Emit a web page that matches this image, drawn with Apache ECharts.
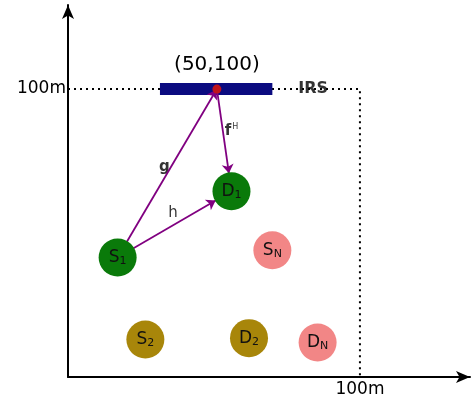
<!DOCTYPE html>
<html><head><meta charset="utf-8">
<script src="https://cdn.jsdelivr.net/npm/echarts@6/dist/echarts.min.js"></script>
<style>html,body{margin:0;background:#fff}#c{width:474px;height:402px}</style>
</head><body><div id="c"></div>
<script>
// node positions in metres
var nodeNames = ['S|1', 'D|1', 'S|N', 'S|2', 'D|2', 'D|N'];
var nodeX = [17, 56, 70, 26.5, 62, 85.5];
var nodeY = [41.5, 64.5, 44, 13, 13.5, 12];
var nodeColors = ['#0a7a0a', '#0a7a0a', '#f28686', '#a8860a', '#a8860a', '#f28686'];
var irsPoint = [51, 100];
var boundary = [[0, 100], [100, 100], [100, 0]];
var links = [
  {from: [17, 41.5], to: irsPoint, label: 'g', at: [33, 73]},
  {from: [17, 41.5], to: [56, 64.5], label: 'h', at: [36, 57]},
  {from: irsPoint, to: [56, 64.5], label: 'f', at: [56, 85.5]}
];

var chart = echarts.init(document.getElementById('c'));
var font = 'DejaVu Sans';

var nodes = nodeNames.map(function (n, i) {
  var p = n.split('|');
  return {
    value: [nodeX[i], nodeY[i]],
    itemStyle: {color: nodeColors[i], opacity: 1},
    label: {formatter: '{m|' + p[0] + '}{s|' + p[1] + '}'}
  };
});

chart.setOption({
  animation: false,
  grid: {left: 68, right: 4, top: 5, bottom: 25},
  xAxis: {
    type: 'value', min: 0, max: 137.7, interval: 100,
    splitLine: {show: false}, axisTick: {show: false},
    axisLine: {lineStyle: {color: '#000', width: 2}, symbol: ['none', 'arrow'], symbolSize: [9, 14]},
    axisLabel: {formatter: function (v) { return v === 100 ? '100m' : ''; }, fontSize: 17, color: '#000', fontFamily: font, margin: 4}
  },
  yAxis: {
    type: 'value', min: 0, max: 129.2, interval: 100,
    splitLine: {show: false}, axisTick: {show: false},
    axisLine: {lineStyle: {color: '#000', width: 2}, symbol: ['none', 'arrow'], symbolSize: [9, 14]},
    axisLabel: {formatter: function (v) { return v === 100 ? '100m' : ''; }, fontSize: 17, color: '#000', fontFamily: font, margin: 2}
  },
  series: [
    {
      type: 'line', data: boundary, symbol: 'none',
      lineStyle: {color: '#000', width: 2, type: [2, 4]}
    },
    {
      type: 'line', data: [[31.5, 100], [70, 100]], symbol: 'none',
      lineStyle: {color: '#0b0b80', width: 12, cap: 'butt'}, z: 3
    },
    {
      type: 'lines', coordinateSystem: 'cartesian2d', z: 4,
      symbol: ['none', 'arrow'], symbolSize: 9,
      lineStyle: {color: '#800080', width: 1.8, opacity: 1},
      data: links.map(function (l) {
        var dx = l.to[0] - l.from[0], dy = l.to[1] - l.from[1];
        var len = Math.sqrt(dx * dx + dy * dy);
        var s = (l.from === irsPoint) ? 0 : 6.3 / len;
        var e = (l.to === irsPoint) ? 0.3 / len : 6.3 / len;
        return {coords: [[l.from[0] + dx * s, l.from[1] + dy * s], [l.to[0] - dx * e, l.to[1] - dy * e]]};
      })
    },
    {
      type: 'scatter', data: [irsPoint], symbolSize: 9, z: 5,
      itemStyle: {color: '#c0141c', opacity: 1},
      label: {show: true, position: 'top', distance: 10, formatter: '(50,100)', fontSize: 20, color: '#000', fontFamily: font}
    },
    {
      type: 'scatter', data: [[84, 100]], symbolSize: 0,
      label: {show: true, position: 'inside', formatter: 'IRS', fontSize: 16, fontWeight: 'bold', color: '#000', fontFamily: font}
    },
    {
      type: 'scatter', data: links.map(function (l) { return {value: l.at, name: l.label}; }), symbolSize: 0,
      label: {show: true, position: 'inside', fontFamily: font, color: '#000',
        formatter: function (p) { return p.name === 'f' ? '{b|f}{sup|H}' : (p.name === 'g' ? '{b|g}' : '{n|h}'); },
        rich: {b: {fontSize: 15, fontWeight: 'bold', color: '#000', fontFamily: font},
               n: {fontSize: 15, color: '#000', fontFamily: font},
               sup: {fontSize: 8, color: '#000', verticalAlign: 'top', padding: [0, 0, 8, 1]}}}
    },
    {
      type: 'scatter', data: nodes, symbolSize: 38, z: 6,
      label: {show: true, position: 'inside', color: '#111', fontFamily: font,
        rich: {m: {fontSize: 17, color: '#111', fontFamily: font},
               s: {fontSize: 11, color: '#111', fontFamily: font, padding: [8, 0, 0, 0]}}}
    }
  ]
});
</script></body></html>
